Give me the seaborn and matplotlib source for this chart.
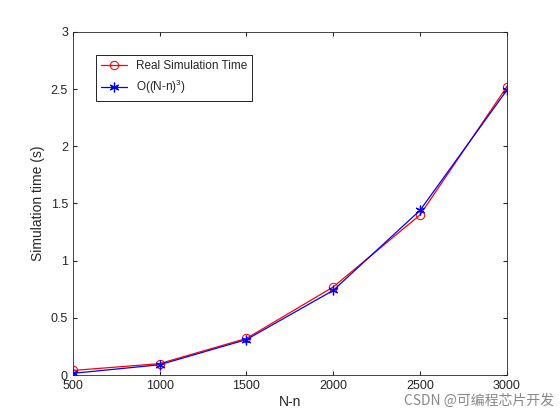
import matplotlib
matplotlib.use("Agg")
import matplotlib.pyplot as plt
import seaborn as sns
import pandas as pd

sns.set_style("ticks")
plt.rcParams['font.family'] = ['Liberation Sans', 'Noto Sans CJK SC', 'DejaVu Sans']
plt.rcParams['mathtext.fontset'] = 'custom'
plt.rcParams['mathtext.rm'] = 'Liberation Sans'

N = [500, 1000, 1500, 2000, 2500, 3000]
real_time = [0.04, 0.10, 0.32, 0.77, 1.40, 2.52]
theory = [0.015, 0.09, 0.31, 0.74, 1.44, 2.49]
xticks = [500, 1000, 1500, 2000, 2500, 3000]
yticks = [0, 0.5, 1, 1.5, 2, 2.5, 3]

df = pd.DataFrame({"N": N, "real": real_time, "theory": theory})

fig = plt.figure(figsize=(5.6, 4.2), dpi=100)
ax = fig.add_axes([0.130, 0.107, 0.775, 0.817])
sns.lineplot(data=df, x="N", y="real", ax=ax, color="red", marker="o", markersize=6,
             markerfacecolor="none", markeredgecolor="red", linewidth=0.9, label="Real Simulation Time")
sns.lineplot(data=df, x="N", y="theory", ax=ax, color="blue", marker=(6, 2, 0), markersize=7,
             markeredgecolor="blue", markeredgewidth=0.9, linewidth=0.9, label=r"O((N-n)$^3$)")
ax.set_xlim(500, 3000)
ax.set_ylim(0, 3)
ax.set_xticks(xticks)
ax.set_xticklabels([str(v) for v in xticks])
ax.set_yticks(yticks)
ax.set_yticklabels(["0", "0.5", "1", "1.5", "2", "2.5", "3"])
ax.tick_params(direction="in", labelsize=9, top=True, right=True, length=3)
for s in ax.spines.values():
    s.set_linewidth(0.6)
ax.set_xlabel("N-n", fontsize=10, labelpad=2)
ax.set_ylabel("Simulation time (s)", fontsize=10)
leg = ax.legend(loc="upper left", bbox_to_anchor=(0.04, 0.95), fontsize=8.5, frameon=True,
                fancybox=False, edgecolor="black", framealpha=1, borderpad=0.4, handlelength=2.2)
leg.get_frame().set_linewidth(0.6)
fig.text(0.99, 0.03, "CSDN @可编程芯片开发", ha="right", va="bottom", fontsize=10, color="#888888",
         family=['Noto Sans CJK SC', 'DejaVu Sans'])
fig.savefig("out.png", dpi=100)
